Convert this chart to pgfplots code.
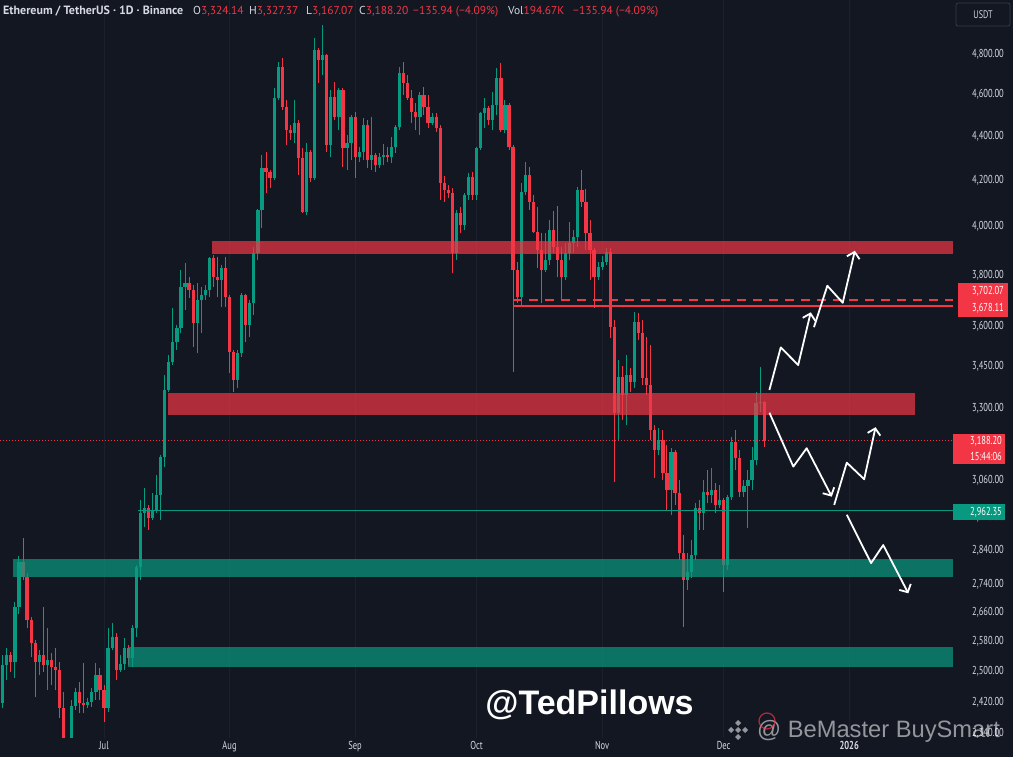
\documentclass[border=0pt]{standalone}
\usepackage{pgfplots}
\pgfplotsset{compat=1.18}
\usepackage{pgfplotstable}
\usepackage{fontspec}
\setmainfont{PT Sans}
\newfontfamily\lsans{Liberation Sans}
\usetikzlibrary{arrows.meta}
\definecolor{bg}{RGB}{19,23,34}
\definecolor{upc}{RGB}{8,153,129}
\definecolor{dnc}{RGB}{242,54,69}
\definecolor{txt}{RGB}{214,217,224}
\definecolor{gridc}{RGB}{28,32,44}
\definecolor{boxb}{RGB}{54,58,69}
\newcommand{\cond}[1]{\scalebox{0.74}[1]{#1}}

\pgfplotstableread{
d o h l c
-25 2417 2543 2404 2517
-24 2517 2562 2477 2543
-22 2525 2689 2482 2675
-21 2675 2824 2656 2806
-16 2525 2556 2490 2543
-14 2517 2617 2451 2530
-8 2237 2425 2228 2409
-7 2409 2456 2400 2446
-4 2412 2430 2404 2420
-3 2420 2456 2407 2446
-2 2446 2522 2425 2490
1 2404 2617 2394 2562
2 2562 2631 2556 2592
4 2503 2543 2498 2519
5 2519 2589 2503 2562
7 2535 2625 2511 2617
8 2617 2797 2592 2791
9 2791 2996 2753 2955
10 2955 3034 2911 2970
12 2939 3018 2933 2964
13 2964 3076 2955 3012
14 3012 3141 2933 3135
15 3135 3419 3102 3365
16 3365 3491 3358 3466
17 3466 3670 3455 3540
18 3540 3604 3510 3592
19 3592 3820 3574 3752
20 3752 3849 3662 3768
23 3612 3768 3499 3701
24 3701 3752 3574 3720
25 3720 3760 3701 3740
26 3740 3873 3713 3869
29 3780 3840 3674 3828
33 3401 3510 3372 3499
34 3499 3728 3484 3720
36 3604 3701 3559 3689
37 3689 3914 3643 3890
38 3890 4075 3861 4070
39 4070 4314 3993 4255
42 4210 4631 4201 4582
43 4582 4760 4572 4734
47 4415 4572 4369 4462
50 4061 4369 4050 4328
52 4210 4881 4201 4820
54 4770 4950 4695 4795
56 4360 4621 4305 4587
58 4491 4631 4429 4621
60 4346 4406 4246 4369
61 4369 4500 4291 4491
63 4305 4351 4282 4328
64 4328 4486 4291 4453
66 4291 4491 4246 4314
68 4268 4323 4255 4305
69 4305 4365 4268 4314
71 4305 4397 4277 4351
72 4351 4453 4323 4444
73 4444 4734 4429 4705
78 4491 4611 4406 4597
81 4462 4510 4453 4491
87 3890 4070 3861 4057
89 4006 4144 3985 4136
90 4136 4233 4114 4215
92 4136 4351 4114 4346
93 4346 4515 4337 4510
94 4510 4582 4439 4534
96 4477 4611 4429 4548
97 4548 4729 4500 4680
99 4429 4572 4415 4548
103 3713 4188 3681 4149
104 4149 4282 4136 4224
109 3820 3972 3812 3861
110 3861 4027 3840 3985
114 3792 3931 3780 3890
115 3890 4018 3861 3931
116 3931 3985 3890 3956
117 3956 4170 3914 4157
122 3792 3853 3780 3832
123 3832 3877 3820 3853
124 3853 3910 3840 3894
127 3285 3473 3192 3412
129 3347 3491 3243 3419
131 3394 3654 3372 3616
137 3158 3233 3141 3192
140 3028 3165 2949 3151
144 2753 2832 2724 2776
145 2776 2872 2759 2826
146 2826 2986 2812 2970
148 2955 3060 2902 3021
150 3012 3099 2986 3028
152 2980 3044 2970 2996
154 2797 3012 2782 3005
155 3005 3202 2996 3185
158 3021 3060 3005 3041
159 3041 3092 2908 3060
160 3060 3168 3028 3125
161 3125 3358 3109 3320
162 3320 3447 3288 3324.14
}\upcandles

\pgfplotstableread{
d o h l c
-23 2543 2551 2498 2525
-20 2806 2878 2753 2762
-19 2762 2773 2617 2639
-18 2639 2647 2538 2576
-17 2576 2584 2433 2525
-15 2543 2675 2498 2517
-13 2530 2549 2464 2511
-12 2511 2562 2451 2503
-11 2503 2525 2379 2404
-10 2404 2446 2240 2249
-9 2249 2288 2115 2237
-6 2446 2472 2391 2417
-5 2417 2522 2391 2412
-1 2490 2509 2425 2451
0 2451 2464 2369 2404
3 2592 2603 2477 2503
6 2562 2570 2517 2535
11 2970 2980 2902 2939
21 3768 3792 3709 3740
22 3740 3760 3521 3612
27 3869 3881 3752 3792
28 3792 3873 3713 3780
30 3828 3873 3674 3713
31 3713 3720 3426 3503
32 3503 3510 3358 3401
35 3720 3725 3540 3604
40 4255 4328 4144 4237
41 4237 4246 4166 4210
44 4734 4780 4524 4538
45 4538 4572 4360 4429
46 4429 4453 4383 4415
48 4462 4477 4223 4300
49 4300 4346 4057 4061
51 4328 4337 4192 4210
53 4820 4830 4655 4770
55 4795 4800 4328 4360
57 4587 4660 4477 4491
59 4621 4631 4259 4346
62 4491 4515 4210 4305
65 4453 4477 4255 4291
67 4314 4323 4237 4268
70 4314 4351 4282 4305
74 4705 4760 4597 4655
75 4655 4695 4572 4582
76 4582 4621 4462 4515
77 4515 4558 4429 4491
79 4597 4636 4500 4538
80 4538 4597 4439 4462
82 4491 4510 4420 4439
83 4439 4453 4114 4188
84 4188 4219 4105 4157
85 4157 4179 4122 4144
86 4144 4166 3808 3890
88 4057 4083 3972 4006
91 4215 4237 4114 4136
95 4534 4545 4453 4477
98 4680 4755 4420 4429
100 4548 4558 4337 4351
101 4351 4360 3430 3820
102 3820 3853 3689 3713
105 4224 4259 4070 4105
106 4105 4136 3972 3976
107 3976 4083 3828 3902
108 3902 3972 3689 3820
111 3985 4066 3890 3914
112 3914 4088 3792 3861
113 3861 3914 3701 3792
118 4157 4246 4083 4105
119 4105 4162 3902 3972
120 3972 4027 3780 3902
121 3902 3910 3670 3792
125 3894 3910 3555 3597
126 3597 3624 3053 3285
128 3412 3451 3260 3347
130 3419 3444 3358 3394
132 3616 3651 3548 3574
133 3574 3624 3383 3408
134 3408 3559 3347 3383
135 3383 3529 3192 3226
136 3226 3243 3066 3158
138 3192 3226 3060 3082
139 3082 3175 2964 3028
141 3151 3158 2980 3018
142 3018 3060 2812 2832
143 2832 2887 2620 2753
147 2970 2996 2902 2955
149 3021 3092 2986 3012
151 3028 3050 2955 2980
153 2996 3002 2718 2797
156 3185 3226 3092 3131
157 3131 3158 3005 3021
163 3324.14 3327.37 3167.07 3188.20
}\dncandles

\pgfplotsset{
  candle/.style={only marks, mark=*, mark size=0pt, mark options={draw=none, fill=none}, forget plot,
    error bars/.cd, y dir=plus, y explicit, error mark=none},
}

\begin{document}
\begin{tikzpicture}
\fill[bg] (0pt,0pt) rectangle (1013pt,757pt);
\begin{axis}[
  at={(0pt,19pt)}, anchor=south west,
  scale only axis, width=953pt, height=738pt,
  xmin=-25.68, xmax=209.63,
  ymode=log, ymin=2329.3, ymax=5082,
  axis line style={draw=none},
  major tick length=0pt, minor tick length=0pt,
  ytick={2340,2420,2500,2580,2660,2740,2840,2940,3060,3300,3450,3600,3800,4000,4200,4400,4600,4800},
  yticklabels={{\cond{2,340.00}},{\cond{2,420.00}},{\cond{2,500.00}},{\cond{2,580.00}},{\cond{2,660.00}},{\cond{2,740.00}},{\cond{2,840.00}},{\cond{2,940.00}},{\cond{3,060.00}},{\cond{3,300.00}},{\cond{3,450.00}},{\cond{3,600.00}},{\cond{3,800.00}},{\cond{4,000.00}},{\cond{4,200.00}},{\cond{4,400.00}},{\cond{4,600.00}},{\cond{4,800.00}}},
  yticklabel pos=right,
  yticklabel style={font=\fontsize{11.5}{13}\selectfont, text=txt, anchor=east, inner sep=0pt, xshift=51pt},
  xtick={0,31,62,92,123,153,184},
  xticklabels={\cond{Jul},\cond{Aug},\cond{Sep},\cond{Oct},\cond{Nov},\cond{Dec},\cond{\textbf{2026}}},
  xticklabel style={font=\fontsize{11.5}{13}\selectfont, text=txt, anchor=north, inner sep=0pt, yshift=-3pt},
  xmajorgrids, major grid style={gridc, line width=0.8pt},
  clip=true,
]
% wicks
\addplot[upc, candle, error bar style={line width=1pt, upc, solid}]
  table[x=d, y=l, y error plus expr={\thisrow{h}-\thisrow{l}}] {\upcandles};
\addplot[dnc, candle, error bar style={line width=1pt, dnc, solid}]
  table[x=d, y=l, y error plus expr={\thisrow{h}-\thisrow{l}}] {\dncandles};
% bodies
\addplot[upc, candle, error bar style={line width=3.2pt, upc, solid}]
  table[x=d, y expr={min(\thisrow{o},\thisrow{c})}, y error plus expr={max(abs(\thisrow{c}-\thisrow{o}),4)}] {\upcandles};
\addplot[dnc, candle, error bar style={line width=3.2pt, dnc, solid}]
  table[x=d, y expr={min(\thisrow{o},\thisrow{c})}, y error plus expr={max(abs(\thisrow{c}-\thisrow{o}),4)}] {\dncandles};
% zones
\addplot[draw=none, fill=dnc, fill opacity=0.7] coordinates {(26.67,3885) (209.63,3885) (209.63,3939) (26.67,3939)} -- cycle;
\addplot[draw=none, fill=dnc, fill opacity=0.7] coordinates {(15.8,3277) (200.2,3277) (200.2,3354) (15.8,3354)} -- cycle;
\addplot[draw=none, fill=upc, fill opacity=0.7] coordinates {(-22.5,2761) (209.63,2761) (209.63,2815) (-22.5,2815)} -- cycle;
\addplot[draw=none, fill=upc, fill opacity=0.7] coordinates {(5.9,2511) (209.63,2511) (209.63,2565) (5.9,2565)} -- cycle;
% level lines
\addplot[draw=upc, color=upc, line width=1.5pt] coordinates {(8.4,2962.35) (209.63,2962.35)};
\addplot[draw=dnc, color=dnc, line width=2pt, dash pattern=on 9pt off 7pt] coordinates {(101,3702.07) (209.63,3702.07)};
\addplot[draw=dnc, color=dnc, line width=1.5pt] coordinates {(101,3678.11) (209.63,3678.11)};
\addplot[draw=dnc, color=dnc, line width=1pt, dash pattern=on 1.2pt off 1.8pt] coordinates {(-25.68,3188.2) (209.63,3188.2)};
% projection arrows
\addplot[white, line width=1.8pt, line join=round, -{Straight Barb[length=6pt,width=13pt]}] coordinates {(164.3,3365) (167.1,3520) (171.4,3455) (174.5,3653)};
\addplot[white, line width=1.8pt, line join=round, -{Straight Barb[length=6pt,width=13pt]}] coordinates {(175.3,3596) (178.6,3757) (182.4,3690) (185.4,3899)};
\addplot[white, line width=1.8pt, line join=round, -{Straight Barb[length=6pt,width=13pt]}] coordinates {(164.3,3285) (170.2,3103) (173.5,3164) (179.7,3006)};
\addplot[white, line width=1.8pt, line join=round, -{Straight Barb[length=6pt,width=13pt]}] coordinates {(180.3,2980) (183.4,3116) (187.7,3062) (190.5,3235)};
\addplot[white, line width=1.8pt, line join=round, -{Straight Barb[length=6pt,width=13pt]}] coordinates {(183.4,2949) (189.4,2802) (192.4,2856) (198.6,2714)};
\end{axis}

% header
\begin{scope}[every node/.style={anchor=base west, inner sep=0pt, font=\fontsize{11.5}{13}\selectfont}]
\node[text=txt, font=\bfseries\fontsize{12}{14}\selectfont] at (3pt,742pt) {Ethereum / TetherUS · 1D · Binance};
\node at (193pt,742pt) {\textcolor{txt}{O}\textcolor{dnc}{3,324.14}};
\node at (249pt,742pt) {\textcolor{txt}{H}\textcolor{dnc}{3,327.37}};
\node at (306pt,742pt) {\textcolor{txt}{L}\textcolor{dnc}{3,167.07}};
\node at (359pt,742pt) {\textcolor{txt}{C}\textcolor{dnc}{3,188.20}};
\node[text=dnc] at (413pt,742pt) {−135.94 (−4.09\%)};
\node at (508pt,742pt) {\textcolor{txt}{Vol}\textcolor{dnc}{194.67K}};
\node[text=dnc] at (573pt,742pt) {−135.94 (−4.09\%)};
\end{scope}

% price axis labels
\draw[boxb, line width=0.8pt, rounded corners=2pt] (956pt,754pt) rectangle (1010pt,731pt);
\node[text=txt, font=\fontsize{11}{13}\selectfont] at (983pt,742.5pt) {\cond{USDT}};
\begin{scope}[every node/.style={text=white, anchor=east, inner sep=0pt, font=\fontsize{11.5}{13}\selectfont}]
\fill[dnc] (958pt,474pt) rectangle (1008pt,440pt);
\node at (1004pt,466pt) {\cond{3,702.07}};
\node at (1004pt,449pt) {\cond{3,678.11}};
\fill[dnc] (953pt,323pt) rectangle (1005pt,293pt);
\node at (1002pt,316pt) {\cond{3,188.20}};
\node at (1002pt,301pt) {\cond{15:44:06}};
\fill[upc] (953pt,253pt) rectangle (1005pt,237pt);
\node at (1002pt,245pt) {\cond{2,962.35}};
\end{scope}

% watermarks
\node[anchor=base, inner sep=0pt, text=white, font=\lsans\bfseries\fontsize{34}{40}\selectfont] at (589.5pt,42pt) {@TedPillows};
\begin{scope}[opacity=0.55]
\fill[white] (738pt,31pt) -- (741pt,34pt) -- (738pt,37pt) -- (735pt,34pt) -- cycle;
\fill[white] (738pt,17pt) -- (741pt,20pt) -- (738pt,23pt) -- (735pt,20pt) -- cycle;
\fill[white] (731pt,24pt) -- (734pt,27pt) -- (731pt,30pt) -- (728pt,27pt) -- cycle;
\fill[white] (745pt,24pt) -- (748pt,27pt) -- (745pt,30pt) -- (742pt,27pt) -- cycle;
\fill[white] (738pt,24pt) -- (741pt,27pt) -- (738pt,30pt) -- (735pt,27pt) -- cycle;
\begin{scope}[every node/.style={anchor=base west, inner sep=0pt, text=white, font=\lsans\fontsize{23.7}{28}\selectfont}]
\node at (757pt,19pt) {@};
\node at (787.6pt,19pt) {BeMaster};
\node at (895.6pt,19pt) {BuySmart};
\end{scope}
\end{scope}
\draw[dnc, opacity=0.7, line width=1.2pt] (767pt,36pt) circle (8pt);

\pgfresetboundingbox
\path (0pt,0pt) rectangle (1013pt,757pt);
\end{tikzpicture}
\end{document}
